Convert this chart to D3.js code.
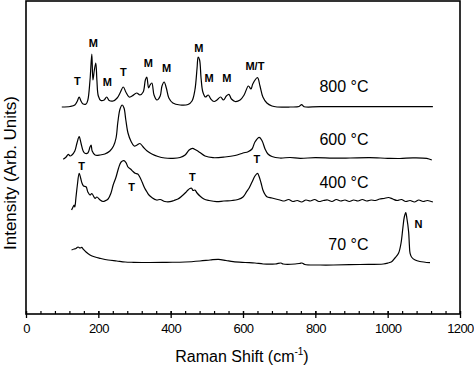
<!DOCTYPE html>
<html>
<head>
<meta charset="utf-8">
<script src="https://cdn.jsdelivr.net/npm/d3@7"></script>
<style>
  body { margin: 0; background: #fff; }
  text { font-family: "Liberation Sans", Arial, sans-serif; fill: #000; }
</style>
</head>
<body>
<div id="chart"></div>
<script>
// spectra: [Raman shift (cm-1), intensity (arb., offset included)]
const spec800 = [
  [99,206],[122,206.5],[135,208],[142,212],[147,216],[152,212],[158,209],[166,209],[171,213],
  [177,233],[182,259],[185,233],[189,243],[193,250],[196,233],[200,217],[207,212.5],[216,213],
  [223,216],[230,212.5],[241,212],[252,215],[260,220],[269,226],[276,221],[285,216],[293,217],
  [306,220],[315,218],[324,221],[330,233],[334,236],[339,225],[343,228],[348,230],[354,218],
  [362,213],[371,217],[376,227],[382,231],[388,225],[395,215],[406,210],[426,208],[448,208.5],
  [459,212],[467,223],[473,245],[476,256],[480,253],[484,235],[489,221],[496,216],[504,218],
  [511,214],[520,211.5],[528,213],[538,216],[546,213],[554,217],[561,218.7],[568,214],[578,211.5],
  [592,213],[603,218],[615,227],[622,224],[627,229],[640,235.3],[647,227],[655,216],[666,210],
  [680,207],[694,206],[730,206],[755,206.5],[762,208.3],[769,206.3],[813,206.3],[1125,206.3]
];

const spec600 = [
  [103,153.7],[111,156],[117,158.7],[122,157],[127,158],[135,162],[141,170],[147,176.3],[152,170],
  [158,162],[163,159.7],[171,160],[177,166],[180,168],[183,162],[191,158],[205,158],[218,159],
  [232,162],[242,167],[249,175],[254,191],[260,204],[266,208],[271,205],[276,193],[282,180],
  [290,172],[299,167],[307,168],[315,169.5],[324,166],[335,162],[348,159],[365,156.5],[384,155],
  [406,154.7],[426,155.5],[440,158],[451,163],[460,164.7],[470,163],[481,160.5],[495,157],
  [517,155.3],[550,156],[578,157.5],[600,160],[614,161.3],[625,164],[633,171],[645,175.7],
  [653,172],[661,164],[669,159],[680,156.5],[702,155],[730,155.5],[758,154.7],[800,155.3],
  [850,154.8],[896,155],[950,155.4],[1000,154.7],[1034,154.5],[1070,155.2],[1108,154.7],[1122,153]
];

const spec400 = [
  [126,103],[130,106],[133,108],[135,106],[138,115],[142,128],[147,139.7],[151,135],[155,129.7],
  [159,127],[166,126.3],[171,121],[177,118],[182,119.5],[191,114.7],[196,116],[205,113],
  [213,111.5],[218,112],[227,114],[235,120],[241,128],[249,136],[256,145],[263,151],[271,152.3],
  [277,150],[282,146],[289,144],[296,141.5],[302,139.7],[309,139],[315,135.7],[321,131],[328,125],
  [334,121.3],[340,118],[348,115.5],[361,113],[371,113.5],[384,111.5],[398,111.3],[409,112.5],
  [420,114],[431,117],[440,120],[448,123],[453,124.5],[458,124.7],[462,122.5],[467,123],[473,120],
  [481,117],[492,114],[506,112.5],[527,111.3],[547,112],[570,112.5],[586,113.5],[600,116],
  [610,121.3],[617,125],[625,131],[633,137],[640,139.7],[644,137],[650,130],[655,123],[661,118.5],
  [666,116.3],[680,115],[702,113],[714,112],[726,113.5],[738,111.5],[750,112.5],[762,111],
  [774,113],[786,112],[798,113.5],[810,111.5],[822,112.5],[834,113],[846,111.5],[858,113.5],
  [870,112],[882,113],[894,111.5],[906,113],[918,112],[930,113.5],[942,112],[954,113],[966,112.5],
  [978,114],[990,114.5],[1002,115.5],[1014,114],[1026,112.5],[1038,113.5],[1050,111.5],
  [1062,112.5],[1074,111],[1086,113],[1098,111.5],[1110,112.5],[1125,111]
];

const spec70 = [
  [126,63],[133,64],[138,64.5],[144,66],[149,65],[154,65.7],[158,64],[166,61],[177,58],[191,56],
  [205,54.7],[227,53],[251,52],[274,51],[297,50.7],[343,50.5],[389,50.7],[440,51],[481,52],
  [509,53],[532,53.7],[553,52.5],[573,51.3],[606,50.5],[633,50],[656,49],[689,49],[705,50],
  [711,49],[744,49],[758,49.7],[763,50],[771,48.5],[813,48],[850,48],[923,48.5],[988,49],
  [1001,50],[1011,51.3],[1020,55],[1030,59.7],[1037,70],[1042,85],[1046,96],[1050,100.3],
  [1053,95],[1058,81],[1060,68],[1062,59.7],[1067,55.5],[1076,53],[1089,51.5],[1117,50.3]
];

const spectra = [spec800, spec600, spec400, spec70];

const tempLabels = ["800 °C", "600 °C", "400 °C", "70 °C"];
const tempLevels = [221, 168, 125, 63];

// peak assignments: [label, shift, intensity]
const peakLabels = [
  ["T", 142, 228], ["M", 186, 266], ["M", 225, 227], ["T", 269, 237], ["M", 338, 246],
  ["M", 389, 241], ["M", 478, 261], ["M", 506, 231], ["M", 555, 231], ["M/T", 633, 243],
  ["T", 154, 143], ["T", 292, 122], ["T", 460, 132], ["T", 638, 150], ["N", 1085, 85]
];

const xTicks = [0, 200, 400, 600, 800, 1000, 1200];

const width = 474, height = 376;

const svg = d3.select("#chart")
  .append("svg")
  .attr("width", width)
  .attr("height", height);

const x = d3.scaleLinear().domain([0, 1200]).range([26, 460]);
const y = d3.scaleLinear().domain([-1, 312]).range([314, 1]);

// minor ticks (inside)
svg.append("g")
  .attr("transform", `translate(0, ${y(-1)})`)
  .call(d3.axisBottom(x).tickValues(d3.range(0, 1201, 40)).tickSize(-3).tickFormat(""))
  .call(g => g.select(".domain").remove())
  .call(g => g.selectAll("line").attr("stroke-width", 1.2));

// major ticks + labels
svg.append("g")
  .attr("transform", `translate(0, ${y(-1)})`)
  .call(d3.axisBottom(x).tickValues(xTicks).tickFormat(d3.format("d"))
    .tickSizeInner(4).tickSizeOuter(0).tickPadding(6))
  .call(g => g.select(".domain").remove())
  .call(g => g.selectAll("line").attr("y1", -3).attr("stroke-width", 1.3))
  .call(g => g.selectAll("text")
    .attr("font-family", "'Liberation Sans', Arial, sans-serif")
    .attr("font-size", 13)
    .attr("letter-spacing", -0.6)
    .attr("fill", "#000"));

// frame
svg.append("rect")
  .attr("x", x(0))
  .attr("y", y(312))
  .attr("width", x(1200) - x(0))
  .attr("height", y(-1) - y(312))
  .attr("fill", "none")
  .attr("stroke", "#000")
  .attr("stroke-width", 1.6);

const line = d3.line()
  .x(d => x(d[0]))
  .y(d => y(d[1]))
  .curve(d3.curveCatmullRom.alpha(0.5));

svg.selectAll(".spectrum")
  .data(spectra)
  .join("path")
  .attr("class", "spectrum")
  .attr("d", line)
  .attr("fill", "none")
  .attr("stroke", "#000")
  .attr("stroke-width", 1.2);

svg.selectAll(".temp")
  .data(tempLabels)
  .join("text")
  .attr("class", "temp")
  .attr("x", x(947))
  .attr("y", (d, i) => y(tempLevels[i]))
  .attr("text-anchor", "end")
  .attr("font-size", 16)
  .text(d => d);

svg.selectAll(".peak")
  .data(peakLabels)
  .join("text")
  .attr("class", "peak")
  .attr("x", d => x(d[1]))
  .attr("y", d => y(d[2]))
  .attr("text-anchor", "middle")
  .attr("font-size", 11)
  .attr("font-weight", "bold")
  .text(d => d[0]);

// axis titles
const xt = svg.append("text")
  .attr("x", 242)
  .attr("y", 362)
  .attr("text-anchor", "middle")
  .attr("font-size", 16);
xt.append("tspan").text("Raman Shift (cm");
xt.append("tspan").attr("font-size", 10).attr("dy", -7).text("-1");
xt.append("tspan").attr("dy", 7).text(")");

svg.append("text")
  .attr("transform", "translate(16, 173) rotate(-90)")
  .attr("text-anchor", "middle")
  .attr("font-size", 17)
  .text("Intensity (Arb. Units)");
</script>
</body>
</html>
